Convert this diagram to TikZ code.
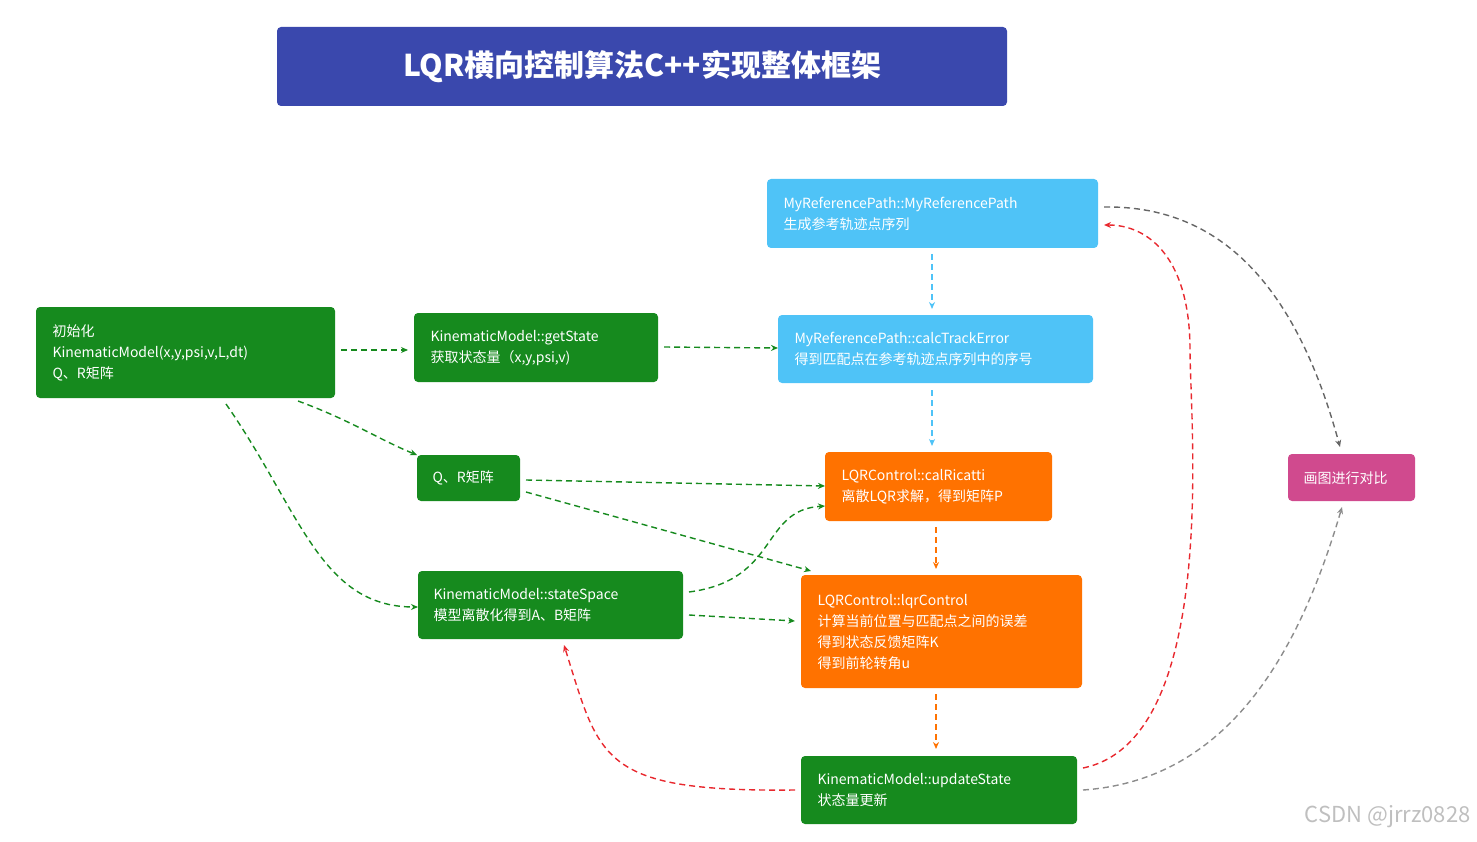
\documentclass[tikz,border=0pt]{standalone}
\usepackage{fontspec}
\setmainfont{Noto Sans CJK SC}
\usetikzlibrary{arrows.meta}
\definecolor{tblue}{HTML}{3A48AD}
\definecolor{gr}{HTML}{168A1E}
\definecolor{lb}{HTML}{4FC3F7}
\definecolor{og}{HTML}{FF7200}
\definecolor{pk}{HTML}{D04A8E}
\definecolor{rd}{HTML}{E8282E}
\begin{document}
\begin{tikzpicture}[x=1pt,y=-1pt,
 box/.style={rounded corners=4pt,draw=none,text=white,align=left,anchor=north west,inner sep=0pt,
   font=\fontsize{13}{20}\selectfont,text depth=0pt},
 con/.style={dashed,line width=1.4pt,dash pattern=on 6pt off 4pt,-{Stealth[length=7pt,width=6pt]}}]
\useasboundingbox (0,0) rectangle (1477,842);
\newcommand{\bx}[6]{\fill[#6,rounded corners=4pt] (#2,#3) rectangle (#4,#5);
  \node[box,minimum width=#4-#2,minimum height=#5-#3,text width=#4-#2-26] (#1) at (#2,#3) {};}
\bx{T}{277}{27}{1007}{106}{tblue}
\node[text=white,font=\fontsize{30}{34}\bfseries\selectfont] at (T.center) {LQR横向控制算法C++实现整体框架};
\bx{A}{36}{307}{335}{398}{gr}
\bx{B}{414}{313}{658}{382}{gr}
\bx{C}{417}{455}{520}{501}{gr}
\bx{D}{418}{571}{683}{639}{gr}
\bx{E}{767}{179}{1098}{248}{lb}
\bx{F}{778}{315}{1093}{383}{lb}
\bx{G}{825}{452}{1052}{521}{og}
\bx{H}{801}{575}{1082}{688}{og}
\bx{I}{801}{756}{1077}{824}{gr}
\bx{J}{1288}{454}{1415}{501}{pk}
\tikzset{lbl/.style={text=white,anchor=west,align=left,font=\fontsize{14}{21}\selectfont}}
\node[lbl] at ([xshift=13pt]A.west) {初始化\\KinematicModel(x,y,psi,v,L,dt)\\Q、R矩阵};
\node[lbl] at ([xshift=13pt]B.west) {KinematicModel::getState\\获取状态量（x,y,psi,v)};
\node[lbl] at ([xshift=12pt]C.west) {Q、R矩阵};
\node[lbl] at ([xshift=12pt]D.west) {KinematicModel::stateSpace\\模型离散化得到A、B矩阵};
\node[lbl] at ([xshift=13pt]E.west) {MyReferencePath::MyReferencePath\\生成参考轨迹点序列};
\node[lbl] at ([xshift=13pt]F.west) {MyReferencePath::calcTrackError\\得到匹配点在参考轨迹点序列中的序号};
\node[lbl] at ([xshift=13pt]G.west) {LQRControl::calRicatti\\离散LQR求解，得到矩阵P};
\node[lbl] at ([xshift=13pt]H.west) {LQRControl::lqrControl\\计算当前位置与匹配点之间的误差\\得到状态反馈矩阵K\\得到前轮转角u};
\node[lbl] at ([xshift=13pt]I.west) {KinematicModel::updateState\\状态量更新};
\node[lbl] at ([xshift=12pt]J.west) {画图进行对比};
\node[text=black!25,font=\fontsize{22}{24}\selectfont,anchor=east] (W) at (1474,817) {CSDN @jrrz0828};
% connectors
\draw[con,gr] (A.east|-0,350) ++(6,0) -- (408,350);
\draw[con,gr] (664,347) -- (F.west|-0,348);
\draw[con,gr] (298,401) .. controls (350,420) and (380,440) .. (C.north west|-0,455);
\draw[con,gr] (226,404) .. controls (300,510) and (320,607) .. (D.west|-0,607);
\draw[con,gr] (526,480) -- (G.west|-0,486);
\draw[con,gr] (526,492) -- (811,571);
\draw[con,gr] (689,592) .. controls (780,580) and (760,510) .. (G.west|-0,506);
\draw[con,gr] (689,615) -- (795,621);
\draw[con,lb] (932,254) -- (932,309);
\draw[con,lb] (932,390) -- (932,446);
\draw[con,og] (936,527) -- (936,569);
\draw[con,og] (936,694) -- (936,749);
\draw[con,rd] (795,790) .. controls (600,792) and (600,760) .. (564,645);
\draw[con,rd] (1083,768) .. controls (1220,740) and (1190,420) .. (1190,350) .. controls (1190,260) and (1150,225) .. (1104,225);
\draw[con,black!60] (1104,207) .. controls (1230,205) and (1300,300) .. (1340,447);
\draw[con,black!45] (1083,790) .. controls (1230,780) and (1300,650) .. (1342,507);
\end{tikzpicture}
\end{document}
